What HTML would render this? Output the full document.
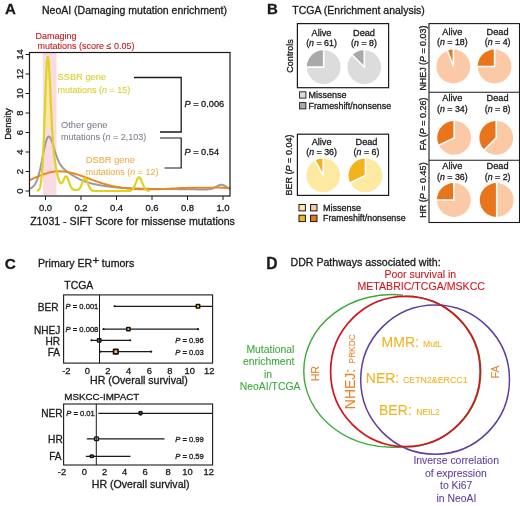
<!DOCTYPE html>
<html lang="en">
<head>
<meta charset="utf-8">
<title>Figure</title>
<style>
html,body{margin:0;padding:0;background:#ffffff;}
body{width:520px;height:506px;overflow:hidden;}
svg{display:block;font-family:'Liberation Sans', sans-serif;}
</style>
</head>
<body>
<svg width="520" height="506" viewBox="0 0 520 506">
<rect x="0" y="0" width="520" height="506" fill="#ffffff"/>
<text x="5" y="13.5" font-size="15" fill="#1a1a1a" stroke="#1a1a1a" stroke-width="0.3" text-anchor="start" font-weight="bold">A</text>
<text x="42" y="14" font-size="10.5" fill="#1a1a1a" stroke="#1a1a1a" stroke-width="0.3" text-anchor="start" font-weight="normal">NeoAI (Damaging mutation enrichment)</text>
<text x="35.5" y="39" font-size="9" fill="#c4161c" stroke="#c4161c" stroke-width="0.08" text-anchor="start" font-weight="normal">Damaging</text>
<text x="37.5" y="49" font-size="9" fill="#c4161c" stroke="#c4161c" stroke-width="0.08" text-anchor="start" font-weight="normal">mutations (score ≤ 0.05)</text>
<rect x="43" y="52.5" width="13.5" height="142.5" fill="#fadbe2" stroke="none" stroke-width="1"/>
<path d="M29.5,188.7 L30.2,188.4 L30.9,188.2 L31.5,187.8 L32.2,187.4 L32.9,186.8 L33.5,186.1 L34.2,185.3 L34.9,184.4 L35.6,183.2 L36.2,181.9 L36.9,180.3 L37.6,178.5 L38.2,176.4 L38.9,174.0 L39.6,171.4 L40.3,168.5 L40.9,165.4 L41.6,162.1 L42.3,158.8 L42.9,155.3 L43.6,152.0 L44.3,148.7 L45.0,145.6 L45.6,142.9 L46.3,140.5 L47.0,138.7 L47.6,137.4 L48.3,136.6 L49.0,136.5 L49.6,136.9 L50.3,137.7 L51.0,139.1 L51.7,140.7 L52.3,142.6 L53.0,144.7 L53.7,146.9 L54.3,149.1 L55.0,151.3 L55.7,153.5 L56.4,155.5 L57.0,157.4 L57.7,159.2 L58.4,160.8 L59.0,162.2 L59.7,163.5 L60.4,164.6 L61.1,165.6 L61.7,166.5 L62.4,167.3 L63.1,168.1 L63.7,168.7 L64.4,169.4 L65.1,169.9 L65.7,170.5 L66.4,171.0 L67.1,171.5 L67.8,172.0 L68.4,172.5 L69.1,172.9 L69.8,173.4 L70.4,173.9 L71.1,174.3 L71.8,174.7 L72.5,175.2 L73.1,175.6 L73.8,176.0 L74.5,176.4 L75.1,176.8 L75.8,177.2 L76.5,177.6 L77.2,177.9 L77.8,178.3 L78.5,178.6 L79.2,178.9 L79.8,179.3 L80.5,179.6 L81.2,179.9 L81.8,180.2 L82.5,180.5 L83.2,180.7 L83.9,181.0 L84.5,181.2 L85.2,181.5 L85.9,181.7 L86.5,182.0 L87.2,182.2 L87.9,182.4 L88.6,182.6 L89.2,182.8 L89.9,183.0 L90.6,183.2 L91.2,183.4 L91.9,183.5 L92.6,183.7 L93.3,183.9 L93.9,184.0 L94.6,184.2 L95.3,184.3 L95.9,184.5 L96.6,184.6 L97.3,184.7 L97.9,184.9 L98.6,185.0 L99.3,185.1 L100.0,185.2 L100.6,185.4 L101.3,185.5 L102.0,185.6 L102.6,185.7 L103.3,185.8 L104.0,185.9 L104.7,186.0 L105.3,186.1 L106.0,186.2 L106.7,186.3 L107.3,186.4 L108.0,186.5 L108.7,186.6 L109.4,186.6 L110.0,186.7 L110.7,186.8 L111.4,186.9 L112.0,186.9 L112.7,187.0 L113.4,187.1 L114.0,187.2 L114.7,187.2 L115.4,187.3 L116.1,187.4 L116.7,187.4 L117.4,187.5 L118.1,187.5 L118.7,187.6 L119.4,187.6 L120.1,187.7 L120.8,187.7 L121.4,187.8 L122.1,187.8 L122.8,187.9 L123.4,187.9 L124.1,188.0 L124.8,188.0 L125.5,188.1 L126.1,188.1 L126.8,188.1 L127.5,188.2 L128.1,188.2 L128.8,188.2 L129.5,188.3 L130.1,188.3 L130.8,188.3 L131.5,188.4 L132.2,188.4 L132.8,188.4 L133.5,188.4 L134.2,188.5 L134.8,188.5 L135.5,188.5 L136.2,188.5 L136.9,188.6 L137.5,188.6 L138.2,188.6 L138.9,188.6 L139.5,188.6 L140.2,188.7 L140.9,188.7 L141.6,188.7 L142.2,188.7 L142.9,188.7 L143.6,188.7 L144.2,188.8 L144.9,188.8 L145.6,188.8 L146.2,188.8 L146.9,188.8 L147.6,188.8 L148.3,188.8 L148.9,188.8 L149.6,188.9 L150.3,188.9 L150.9,188.9 L151.6,188.9 L152.3,188.9 L153.0,188.9 L153.6,188.9 L154.3,188.9 L155.0,188.9 L155.6,188.9 L156.3,188.9 L157.0,188.9 L157.7,189.0 L158.3,189.0 L159.0,189.0 L159.7,189.0 L160.3,189.0 L161.0,189.0 L161.7,189.0 L162.3,189.0 L163.0,189.0 L163.7,189.0 L164.4,189.0 L165.0,189.0 L165.7,189.0 L166.4,189.0 L167.0,189.1 L167.7,189.1 L168.4,189.1 L169.1,189.1 L169.7,189.1 L170.4,189.1 L171.1,189.1 L171.7,189.1 L172.4,189.1 L173.1,189.1 L173.8,189.1 L174.4,189.1 L175.1,189.1 L175.8,189.1 L176.4,189.1 L177.1,189.1 L177.8,189.2 L178.4,189.2 L179.1,189.2 L179.8,189.2 L180.5,189.2 L181.1,189.2 L181.8,189.2 L182.5,189.2 L183.1,189.2 L183.8,189.2 L184.5,189.2 L185.2,189.2 L185.8,189.2 L186.5,189.2 L187.2,189.3 L187.8,189.3 L188.5,189.3 L189.2,189.3 L189.9,189.3 L190.5,189.3 L191.2,189.3 L191.9,189.3 L192.5,189.3 L193.2,189.3 L193.9,189.3 L194.5,189.3 L195.2,189.3 L195.9,189.4 L196.6,189.4 L197.2,189.4 L197.9,189.4 L198.6,189.4 L199.2,189.4 L199.9,189.4 L200.6,189.4 L201.3,189.4 L201.9,189.4 L202.6,189.4 L203.3,189.4 L203.9,189.4 L204.6,189.4 L205.3,189.4 L206.0,189.4 L206.6,189.4 L207.3,189.4 L208.0,189.3 L208.6,189.3 L209.3,189.2 L210.0,189.1 L210.6,189.0 L211.3,188.9 L212.0,188.7 L212.7,188.4 L213.3,188.2 L214.0,187.9 L214.7,187.5 L215.3,187.1 L216.0,186.8 L216.7,186.4 L217.4,186.0 L218.0,185.6 L218.7,185.3 L219.4,185.1 L220.0,184.9 L220.7,184.8 L221.4,184.7 L222.1,184.8 L222.7,185.0 L223.4,185.2 L224.1,185.5 L224.7,185.8 L225.4,186.2 L226.1,186.6 L226.7,187.0 L227.4,187.4 L228.1,187.8 L228.8,188.1 L229.4,188.4 L230.1,188.7" fill="none" stroke="#9a9aae" stroke-width="2" stroke-linejoin="round"/>
<path d="M29.5,180.1 L30.2,179.8 L30.9,179.6 L31.5,179.3 L32.2,179.0 L32.9,178.7 L33.5,178.4 L34.2,178.1 L34.9,177.8 L35.6,177.5 L36.2,177.2 L36.9,176.9 L37.6,176.7 L38.2,176.4 L38.9,176.1 L39.6,175.8 L40.3,175.5 L40.9,175.3 L41.6,175.0 L42.3,174.8 L42.9,174.5 L43.6,174.3 L44.3,174.0 L45.0,173.8 L45.6,173.6 L46.3,173.4 L47.0,173.2 L47.6,173.0 L48.3,172.8 L49.0,172.6 L49.6,172.4 L50.3,172.3 L51.0,172.1 L51.7,172.0 L52.3,171.9 L53.0,171.8 L53.7,171.7 L54.3,171.6 L55.0,171.5 L55.7,171.4 L56.4,171.4 L57.0,171.3 L57.7,171.3 L58.4,171.3 L59.0,171.3 L59.7,171.3 L60.4,171.3 L61.1,171.4 L61.7,171.4 L62.4,171.4 L63.1,171.5 L63.7,171.6 L64.4,171.6 L65.1,171.7 L65.7,171.8 L66.4,171.9 L67.1,172.0 L67.8,172.1 L68.4,172.2 L69.1,172.4 L69.8,172.5 L70.4,172.6 L71.1,172.8 L71.8,172.9 L72.5,173.1 L73.1,173.3 L73.8,173.5 L74.5,173.6 L75.1,173.8 L75.8,174.0 L76.5,174.2 L77.2,174.4 L77.8,174.6 L78.5,174.9 L79.2,175.1 L79.8,175.3 L80.5,175.5 L81.2,175.8 L81.8,176.0 L82.5,176.2 L83.2,176.5 L83.9,176.7 L84.5,176.9 L85.2,177.2 L85.9,177.4 L86.5,177.7 L87.2,177.9 L87.9,178.2 L88.6,178.4 L89.2,178.7 L89.9,178.9 L90.6,179.2 L91.2,179.4 L91.9,179.7 L92.6,179.9 L93.3,180.2 L93.9,180.4 L94.6,180.7 L95.3,180.9 L95.9,181.1 L96.6,181.4 L97.3,181.6 L97.9,181.8 L98.6,182.1 L99.3,182.3 L100.0,182.5 L100.6,182.7 L101.3,183.0 L102.0,183.2 L102.6,183.4 L103.3,183.6 L104.0,183.8 L104.7,184.0 L105.3,184.2 L106.0,184.4 L106.7,184.6 L107.3,184.7 L108.0,184.9 L108.7,185.1 L109.4,185.3 L110.0,185.4 L110.7,185.6 L111.4,185.8 L112.0,185.9 L112.7,186.1 L113.4,186.2 L114.0,186.4 L114.7,186.5 L115.4,186.6 L116.1,186.8 L116.7,186.9 L117.4,187.0 L118.1,187.1 L118.7,187.2 L119.4,187.4 L120.1,187.5 L120.8,187.6 L121.4,187.7 L122.1,187.8 L122.8,187.9 L123.4,187.9 L124.1,188.0 L124.8,188.1 L125.5,188.2 L126.1,188.3 L126.8,188.3 L127.5,188.4 L128.1,188.5 L128.8,188.5 L129.5,188.6 L130.1,188.7 L130.8,188.7 L131.5,188.8 L132.2,188.8 L132.8,188.9 L133.5,188.9 L134.2,189.0 L134.8,189.0 L135.5,189.0 L136.2,189.1 L136.9,189.1 L137.5,189.1 L138.2,189.2 L138.9,189.2 L139.5,189.2 L140.2,189.2 L140.9,189.3 L141.6,189.3 L142.2,189.3 L142.9,189.3 L143.6,189.3 L144.2,189.3 L144.9,189.3 L145.6,189.3 L146.2,189.3 L146.9,189.4 L147.6,189.4 L148.3,189.4 L148.9,189.4 L149.6,189.4 L150.3,189.4 L150.9,189.3 L151.6,189.3 L152.3,189.3 L153.0,189.3 L153.6,189.3 L154.3,189.3 L155.0,189.3 L155.6,189.3 L156.3,189.3 L157.0,189.2 L157.7,189.2 L158.3,189.2 L159.0,189.2 L159.7,189.2 L160.3,189.1 L161.0,189.1 L161.7,189.1 L162.3,189.1 L163.0,189.0 L163.7,189.0 L164.4,189.0 L165.0,188.9 L165.7,188.9 L166.4,188.9 L167.0,188.8 L167.7,188.8 L168.4,188.8 L169.1,188.7 L169.7,188.7 L170.4,188.7 L171.1,188.6 L171.7,188.6 L172.4,188.6 L173.1,188.5 L173.8,188.5 L174.4,188.5 L175.1,188.4 L175.8,188.4 L176.4,188.3 L177.1,188.3 L177.8,188.3 L178.4,188.2 L179.1,188.2 L179.8,188.2 L180.5,188.1 L181.1,188.1 L181.8,188.1 L182.5,188.0 L183.1,188.0 L183.8,188.0 L184.5,187.9 L185.2,187.9 L185.8,187.9 L186.5,187.9 L187.2,187.8 L187.8,187.8 L188.5,187.8 L189.2,187.8 L189.9,187.8 L190.5,187.8 L191.2,187.7 L191.9,187.7 L192.5,187.7 L193.2,187.7 L193.9,187.7 L194.5,187.7 L195.2,187.7 L195.9,187.7 L196.6,187.7 L197.2,187.7 L197.9,187.7 L198.6,187.7 L199.2,187.7 L199.9,187.7 L200.6,187.7 L201.3,187.7 L201.9,187.7 L202.6,187.7 L203.3,187.7 L203.9,187.7 L204.6,187.7 L205.3,187.7 L206.0,187.7 L206.6,187.7 L207.3,187.7 L208.0,187.7 L208.6,187.7 L209.3,187.7 L210.0,187.7 L210.6,187.7 L211.3,187.7 L212.0,187.7 L212.7,187.7 L213.3,187.7 L214.0,187.6 L214.7,187.6 L215.3,187.6 L216.0,187.6 L216.7,187.6 L217.4,187.6 L218.0,187.6 L218.7,187.6 L219.4,187.6 L220.0,187.6 L220.7,187.7 L221.4,187.7 L222.1,187.7 L222.7,187.7 L223.4,187.8 L224.1,187.8 L224.7,187.9 L225.4,187.9 L226.1,188.0 L226.7,188.0 L227.4,188.1 L228.1,188.2 L228.8,188.2 L229.4,188.3 L230.1,188.4" fill="none" stroke="#e8891c" stroke-width="2" stroke-linejoin="round"/>
<path d="M44.2,127.5 L44.3,123.9 L44.5,120.3 L44.6,116.6 L44.7,112.8 L44.9,109.1 L45.0,105.4 L45.1,101.7 L45.3,98.0 L45.4,94.4 L45.5,90.8 L45.7,87.4 L45.8,84.1 L45.9,80.9 L46.1,77.8 L46.2,74.9 L46.4,72.1 L46.5,69.6 L46.6,67.3 L46.8,65.1 L46.9,63.2 L47.0,61.6 L47.2,60.1 L47.3,59.0 L47.4,58.0 L47.6,57.4 L47.7,57.0 L47.8,56.8 L48.0,57.0 L48.1,57.3 L48.2,57.9 L48.4,58.8 L48.5,59.9 L48.6,61.2 L48.8,62.8 L48.9,64.5 L49.0,66.4 L49.2,68.5 L49.3,70.7 L49.4,73.1 L49.6,75.7 L49.7,78.3 L49.8,81.0 L50.0,83.8 L50.1,86.7 L50.2,89.6 L50.4,92.6 L50.5,95.6 L50.6,98.6 L50.8,101.5 L50.9,104.5 L51.0,107.4 L51.2,110.3 L51.3,113.1 L51.5,115.9 L51.6,118.6 L51.7,121.3 L51.9,123.9 L52.0,126.3 Z" fill="#f8e7a2" opacity="0.8" stroke="none"/>
<path d="M37.2,190.8 L37.4,190.8 L37.6,190.7 L37.8,190.6 L38.0,190.5 L38.2,190.4 L38.5,190.2 L38.7,190.0 L38.9,189.8 L39.1,189.4 L39.3,189.1 L39.5,188.6 L39.8,188.0 L40.0,187.3 L40.2,186.5 L40.4,185.6 L40.6,184.5 L40.9,183.1 L41.1,181.6 L41.3,179.9 L41.5,177.9 L41.7,175.6 L41.9,173.0 L42.2,170.2 L42.4,167.0 L42.6,163.5 L42.8,159.6 L43.0,155.4 L43.2,150.9 L43.5,146.1 L43.7,141.0 L43.9,135.6 L44.1,130.0 L44.3,124.2 L44.5,118.2 L44.8,112.2 L45.0,106.2 L45.2,100.2 L45.4,94.3 L45.6,88.6 L45.8,83.2 L46.1,78.2 L46.3,73.5 L46.5,69.3 L46.7,65.7 L46.9,62.6 L47.2,60.2 L47.4,58.4 L47.6,57.3 L47.8,56.8 L48.0,57.1 L48.2,58.0 L48.5,59.5 L48.7,61.6 L48.9,64.3 L49.1,67.5 L49.3,71.1 L49.5,75.1 L49.8,79.3 L50.0,83.8 L50.2,88.5 L50.4,93.3 L50.6,98.1 L50.8,102.9 L51.1,107.7 L51.3,112.3 L51.5,116.8 L51.7,121.2 L51.9,125.3 L52.1,129.2 L52.4,132.9 L52.6,136.3 L52.8,139.6 L53.0,142.6 L53.2,145.4 L53.5,148.0 L53.7,150.4 L53.9,152.6 L54.1,154.6 L54.3,156.6 L54.5,158.3 L54.8,160.0 L55.0,161.6 L55.2,163.1 L55.4,164.5 L55.6,165.8 L55.8,167.1 L56.1,168.3 L56.3,169.4 L56.5,170.6 L56.7,171.6 L56.9,172.7 L57.1,173.6 L57.4,174.6 L57.6,175.5 L57.8,176.4 L58.0,177.2 L58.2,178.0 L58.4,178.7 L58.7,179.4 L58.9,180.0 L59.1,180.6 L59.3,181.1 L59.5,181.6 L59.8,182.0 L60.0,182.4 L60.2,182.7 L60.4,182.9 L60.6,183.1 L60.8,183.2 L61.1,183.3 L61.3,183.3 L61.5,183.2 L61.7,183.1 L61.9,182.9 L62.1,182.7 L62.4,182.4 L62.6,182.0 L62.8,181.7 L63.0,181.2 L63.2,180.8 L63.4,180.3 L63.7,179.9 L63.9,179.4 L64.1,178.9 L64.3,178.4 L64.5,178.0 L64.7,177.6 L65.0,177.3 L65.2,176.9 L65.4,176.7 L65.6,176.5 L65.8,176.4 L66.1,176.4 L66.3,176.4 L66.5,176.5 L66.7,176.7 L66.9,176.9 L67.1,177.2 L67.4,177.6 L67.6,178.1 L67.8,178.6 L68.0,179.1 L68.2,179.7 L68.4,180.3 L68.7,180.9 L68.9,181.6 L69.1,182.2 L69.3,182.8 L69.5,183.5 L69.7,184.1 L70.0,184.7 L70.2,185.2 L70.4,185.7 L70.6,186.2 L70.8,186.7 L71.0,187.1 L71.3,187.5 L71.5,187.8 L71.7,188.1 L71.9,188.4 L72.1,188.6 L72.4,188.9 L72.6,189.0 L72.8,189.2 L73.0,189.3 L73.2,189.4 L73.4,189.5 L73.7,189.6 L73.9,189.7 L74.1,189.7 L74.3,189.8 L74.5,189.8 L74.7,189.9 L75.0,189.9 L75.2,189.9 L75.4,189.9 L75.6,189.9 L75.8,190.0 L76.0,190.0 L76.3,190.0 L76.5,190.0 L76.7,190.0 L76.9,190.0 L77.1,189.9 L77.3,189.9 L77.6,189.9 L77.8,189.8 L78.0,189.7 L78.2,189.7 L78.4,189.5 L78.7,189.4 L78.9,189.3 L79.1,189.1 L79.3,188.9 L79.5,188.6 L79.7,188.3 L80.0,188.0 L80.2,187.7 L80.4,187.3 L80.6,186.9 L80.8,186.5 L81.0,186.0 L81.3,185.5 L81.5,184.9 L81.7,184.4 L81.9,183.8 L82.1,183.3 L82.3,182.7 L82.6,182.1 L82.8,181.6 L83.0,181.0 L83.2,180.5 L83.4,180.1 L83.6,179.6 L83.9,179.2 L84.1,178.9 L84.3,178.7 L84.5,178.5 L84.7,178.4 L85.0,178.3 L85.2,178.3 L85.4,178.4 L85.6,178.6 L85.8,178.8 L86.0,179.1 L86.3,179.5 L86.5,179.9 L86.7,180.4 L86.9,180.9 L87.1,181.4 L87.3,182.0 L87.6,182.6 L87.8,183.2 L88.0,183.7 L88.2,184.3 L88.4,184.9 L88.6,185.5 L88.9,186.0 L89.1,186.5 L89.3,187.0 L89.5,187.4 L89.7,187.8 L89.9,188.2 L90.2,188.6 L90.4,188.9 L90.6,189.2 L90.8,189.5 L91.0,189.7 L91.3,189.9 L91.5,190.1 L91.7,190.2 L91.9,190.3 L92.1,190.5 L92.3,190.6 L92.6,190.6 L92.8,190.7 L93.0,190.8 L93.2,190.8 L93.4,190.8 L95.2,191.0 L100.0,191.0 L104.8,191.0 L109.7,191.0 L114.5,191.0 L119.3,191.0 L124.1,191.0 L128.9,190.9 L129.8,190.8 L130.1,190.7 L130.5,190.6 L130.8,190.5 L131.1,190.4 L131.5,190.2 L131.8,190.0 L132.1,189.7 L132.5,189.4 L132.8,189.0 L133.1,188.5 L133.5,188.0 L133.8,187.5 L134.1,186.8 L134.4,186.2 L134.8,185.4 L135.1,184.6 L135.4,183.8 L135.8,182.9 L136.1,182.1 L136.4,181.2 L136.8,180.4 L137.1,179.7 L137.4,179.0 L137.8,178.4 L138.1,177.9 L138.4,177.6 L138.7,177.4 L139.1,177.4 L139.4,177.4 L139.7,177.7 L140.1,178.0 L140.4,178.5 L140.7,179.1 L141.1,179.8 L141.4,180.6 L141.7,181.4 L142.1,182.3 L142.4,183.1 L142.7,184.0 L143.0,184.8 L143.4,185.6 L143.7,186.3 L144.0,187.0 L144.4,187.6 L144.7,188.2 L145.0,188.6 L145.4,189.1 L145.7,189.4 L146.0,189.7 L146.4,190.0 L146.7,190.2 L147.0,190.4 L147.4,190.5 L147.7,190.6 L148.0,190.7 L148.3,190.8 L148.7,190.9 L149.0,190.9 L149.3,190.9" fill="none" stroke="#e0d21e" stroke-width="2.2" stroke-linejoin="round"/>
<rect x="29.5" y="52.5" width="200.5" height="143.5" fill="none" stroke="#1a1a1a" stroke-width="1.2"/>
<line x1="45.5" y1="196" x2="45.5" y2="200" stroke="#1a1a1a" stroke-width="1"/>
<text x="45.5" y="210.5" font-size="9.5" fill="#1a1a1a" stroke="#1a1a1a" stroke-width="0.3" text-anchor="middle" font-weight="normal">0.0</text>
<line x1="81.0" y1="196" x2="81.0" y2="200" stroke="#1a1a1a" stroke-width="1"/>
<text x="81.0" y="210.5" font-size="9.5" fill="#1a1a1a" stroke="#1a1a1a" stroke-width="0.3" text-anchor="middle" font-weight="normal">0.2</text>
<line x1="116.5" y1="196" x2="116.5" y2="200" stroke="#1a1a1a" stroke-width="1"/>
<text x="116.5" y="210.5" font-size="9.5" fill="#1a1a1a" stroke="#1a1a1a" stroke-width="0.3" text-anchor="middle" font-weight="normal">0.4</text>
<line x1="152.0" y1="196" x2="152.0" y2="200" stroke="#1a1a1a" stroke-width="1"/>
<text x="152.0" y="210.5" font-size="9.5" fill="#1a1a1a" stroke="#1a1a1a" stroke-width="0.3" text-anchor="middle" font-weight="normal">0.6</text>
<line x1="187.5" y1="196" x2="187.5" y2="200" stroke="#1a1a1a" stroke-width="1"/>
<text x="187.5" y="210.5" font-size="9.5" fill="#1a1a1a" stroke="#1a1a1a" stroke-width="0.3" text-anchor="middle" font-weight="normal">0.8</text>
<line x1="223.0" y1="196" x2="223.0" y2="200" stroke="#1a1a1a" stroke-width="1"/>
<text x="223.0" y="210.5" font-size="9.5" fill="#1a1a1a" stroke="#1a1a1a" stroke-width="0.3" text-anchor="middle" font-weight="normal">1.0</text>
<line x1="25.5" y1="191.0" x2="29.5" y2="191.0" stroke="#1a1a1a" stroke-width="1"/>
<text x="23" y="191.0" font-size="9.5" fill="#1a1a1a" stroke="#1a1a1a" stroke-width="0.3" text-anchor="middle" font-weight="normal" transform="rotate(-90 23 191.0)">0</text>
<line x1="25.5" y1="171.5" x2="29.5" y2="171.5" stroke="#1a1a1a" stroke-width="1"/>
<text x="23" y="171.5" font-size="9.5" fill="#1a1a1a" stroke="#1a1a1a" stroke-width="0.3" text-anchor="middle" font-weight="normal" transform="rotate(-90 23 171.5)">2</text>
<line x1="25.5" y1="152.0" x2="29.5" y2="152.0" stroke="#1a1a1a" stroke-width="1"/>
<text x="23" y="152.0" font-size="9.5" fill="#1a1a1a" stroke="#1a1a1a" stroke-width="0.3" text-anchor="middle" font-weight="normal" transform="rotate(-90 23 152.0)">4</text>
<line x1="25.5" y1="132.5" x2="29.5" y2="132.5" stroke="#1a1a1a" stroke-width="1"/>
<text x="23" y="132.5" font-size="9.5" fill="#1a1a1a" stroke="#1a1a1a" stroke-width="0.3" text-anchor="middle" font-weight="normal" transform="rotate(-90 23 132.5)">6</text>
<line x1="25.5" y1="113.0" x2="29.5" y2="113.0" stroke="#1a1a1a" stroke-width="1"/>
<text x="23" y="113.0" font-size="9.5" fill="#1a1a1a" stroke="#1a1a1a" stroke-width="0.3" text-anchor="middle" font-weight="normal" transform="rotate(-90 23 113.0)">8</text>
<line x1="25.5" y1="93.5" x2="29.5" y2="93.5" stroke="#1a1a1a" stroke-width="1"/>
<text x="23" y="93.5" font-size="9.5" fill="#1a1a1a" stroke="#1a1a1a" stroke-width="0.3" text-anchor="middle" font-weight="normal" transform="rotate(-90 23 93.5)">10</text>
<line x1="25.5" y1="74.0" x2="29.5" y2="74.0" stroke="#1a1a1a" stroke-width="1"/>
<text x="23" y="74.0" font-size="9.5" fill="#1a1a1a" stroke="#1a1a1a" stroke-width="0.3" text-anchor="middle" font-weight="normal" transform="rotate(-90 23 74.0)">12</text>
<line x1="25.5" y1="54.5" x2="29.5" y2="54.5" stroke="#1a1a1a" stroke-width="1"/>
<text x="23" y="54.5" font-size="9.5" fill="#1a1a1a" stroke="#1a1a1a" stroke-width="0.3" text-anchor="middle" font-weight="normal" transform="rotate(-90 23 54.5)">14</text>
<text x="11" y="124" font-size="9.5" fill="#1a1a1a" stroke="#1a1a1a" stroke-width="0.3" text-anchor="middle" font-weight="normal" transform="rotate(-90 11 124)">Density</text>
<text x="132.5" y="225" font-size="10.6" fill="#1a1a1a" stroke="#1a1a1a" stroke-width="0.3" text-anchor="middle" font-weight="normal">Z1031 - SIFT Score for missense mutations</text>
<text x="57.5" y="80" font-size="9.3" fill="#d9d02e" stroke="#d9d02e" stroke-width="0.08" text-anchor="start" font-weight="normal">SSBR gene</text>
<text x="57.5" y="92.5" font-size="9" fill="#d9d02e" stroke="#d9d02e" stroke-width="0.08" text-anchor="start" font-weight="normal">mutations (<tspan font-style="italic">n</tspan> = 15)</text>
<text x="61" y="127.5" font-size="9.3" fill="#82828f" stroke="#82828f" stroke-width="0.08" text-anchor="start" font-weight="normal">Other gene</text>
<text x="61" y="139.5" font-size="9" fill="#82828f" stroke="#82828f" stroke-width="0.08" text-anchor="start" font-weight="normal">mutations (<tspan font-style="italic">n</tspan> = 2,103)</text>
<text x="85.75" y="162.5" font-size="9.3" fill="#eeae4e" stroke="#eeae4e" stroke-width="0.08" text-anchor="start" font-weight="normal">DSBR gene</text>
<text x="85.75" y="175" font-size="9" fill="#eeae4e" stroke="#eeae4e" stroke-width="0.08" text-anchor="start" font-weight="normal">mutations (<tspan font-style="italic">n</tspan> = 12)</text>
<path d="M134,77.5 H181.2 V132 H160" fill="none" stroke="#1a1a1a" stroke-width="1.3"/>
<path d="M160,138 H181.2 V168 H164.5" fill="none" stroke="#1a1a1a" stroke-width="1.2"/>
<text x="184.5" y="106.8" font-size="9.2" fill="#1a1a1a" stroke="#1a1a1a" stroke-width="0.3" text-anchor="start" font-weight="normal"><tspan font-style="italic">P</tspan> = 0.006</text>
<text x="184.5" y="155.3" font-size="9.2" fill="#1a1a1a" stroke="#1a1a1a" stroke-width="0.3" text-anchor="start" font-weight="normal"><tspan font-style="italic">P</tspan> = 0.54</text>
<text x="267" y="13.6" font-size="15" fill="#1a1a1a" stroke="#1a1a1a" stroke-width="0.3" text-anchor="start" font-weight="bold">B</text>
<text x="292.3" y="13.8" font-size="10.5" fill="#1a1a1a" stroke="#1a1a1a" stroke-width="0.3" text-anchor="start" font-weight="normal">TCGA (Enrichment analysis)</text>
<rect x="297.4" y="23.6" width="91.2" height="64.1" fill="none" stroke="#1a1a1a" stroke-width="1.2"/>
<text x="292.5" y="56" font-size="9" fill="#1a1a1a" stroke="#1a1a1a" stroke-width="0.3" text-anchor="middle" font-weight="normal" transform="rotate(-90 292.5 56)">Controls</text>
<text x="321.5" y="35.8" font-size="9.2" fill="#1a1a1a" stroke="#1a1a1a" stroke-width="0.3" text-anchor="middle" font-weight="normal">Alive</text>
<text x="321.5" y="46" font-size="8.85" fill="#1a1a1a" stroke="#1a1a1a" stroke-width="0.3" text-anchor="middle" font-weight="normal">(<tspan font-style="italic">n</tspan> = 61)</text>
<text x="364" y="35.8" font-size="9.2" fill="#1a1a1a" stroke="#1a1a1a" stroke-width="0.3" text-anchor="middle" font-weight="normal">Dead</text>
<text x="364" y="46" font-size="8.85" fill="#1a1a1a" stroke="#1a1a1a" stroke-width="0.3" text-anchor="middle" font-weight="normal">(<tspan font-style="italic">n</tspan> = 8)</text>
<circle cx="323.7" cy="67.1" r="16.9" fill="#dcdcdc"/>
<path d="M323.7,67.1 L306.80,67.10 A16.9,16.9 0 0 1 323.7,50.20 Z" fill="#a9a9a9"/>
<path d="M306.20,67.10 L323.7,67.1 L323.7,49.60" fill="none" stroke="#ffffff" stroke-width="1.6" stroke-linejoin="miter"/>
<circle cx="364.3" cy="67.1" r="16.9" fill="#dcdcdc"/>
<path d="M364.3,67.1 L352.35,55.15 A16.9,16.9 0 0 1 364.3,50.20 Z" fill="#a9a9a9"/>
<path d="M351.93,54.73 L364.3,67.1 L364.3,49.60" fill="none" stroke="#ffffff" stroke-width="1.6" stroke-linejoin="miter"/>
<rect x="299.6" y="91.8" width="6.3" height="6.3" fill="#dcdcdc" stroke="#1a1a1a" stroke-width="0.9"/>
<rect x="299.6" y="102.6" width="6.3" height="6.3" fill="#a9a9a9" stroke="#1a1a1a" stroke-width="0.9"/>
<text x="308.5" y="98.3" font-size="9" fill="#1a1a1a" stroke="#1a1a1a" stroke-width="0.3" text-anchor="start" font-weight="normal">Missense</text>
<text x="308.5" y="109.3" font-size="8.85" fill="#1a1a1a" stroke="#1a1a1a" stroke-width="0.3" text-anchor="start" font-weight="normal">Frameshift/nonsense</text>
<rect x="297.4" y="134.2" width="91.2" height="61.2" fill="none" stroke="#1a1a1a" stroke-width="1.2"/>
<text x="292.3" y="165" font-size="9" fill="#1a1a1a" stroke="#1a1a1a" stroke-width="0.3" text-anchor="middle" font-weight="normal" transform="rotate(-90 292.3 165)">BER (<tspan font-style="italic">P</tspan> = 0.04)</text>
<text x="321.6" y="144.6" font-size="9.2" fill="#1a1a1a" stroke="#1a1a1a" stroke-width="0.3" text-anchor="middle" font-weight="normal">Alive</text>
<text x="321.6" y="154.6" font-size="8.85" fill="#1a1a1a" stroke="#1a1a1a" stroke-width="0.3" text-anchor="middle" font-weight="normal">(<tspan font-style="italic">n</tspan> = 36)</text>
<text x="366.5" y="144.6" font-size="9.2" fill="#1a1a1a" stroke="#1a1a1a" stroke-width="0.3" text-anchor="middle" font-weight="normal">Dead</text>
<text x="366.5" y="154.6" font-size="8.85" fill="#1a1a1a" stroke="#1a1a1a" stroke-width="0.3" text-anchor="middle" font-weight="normal">(<tspan font-style="italic">n</tspan> = 6)</text>
<circle cx="323.2" cy="175.4" r="16.9" fill="#fde9a0"/>
<path d="M323.2,175.4 L315.06,160.59 A16.9,16.9 0 0 1 323.2,158.50 Z" fill="#f3b31c"/>
<path d="M314.77,160.06 L323.2,175.4 L323.2,157.90" fill="none" stroke="#ffffff" stroke-width="1.6" stroke-linejoin="miter"/>
<circle cx="365.5" cy="175.4" r="16.9" fill="#fde9a0"/>
<path d="M365.5,175.4 L350.30,182.79 A16.9,16.9 0 0 1 365.5,158.50 Z" fill="#f3b31c"/>
<path d="M349.76,183.05 L365.5,175.4 L365.5,157.90" fill="none" stroke="#ffffff" stroke-width="1.6" stroke-linejoin="miter"/>
<rect x="299" y="204.5" width="6.4" height="6.4" fill="#fde9a0" stroke="#1a1a1a" stroke-width="1"/>
<rect x="310.6" y="204.5" width="6.4" height="6.4" fill="#fcc9a6" stroke="#1a1a1a" stroke-width="1"/>
<rect x="299" y="215.2" width="6.4" height="6.4" fill="#f3b31c" stroke="#1a1a1a" stroke-width="1"/>
<rect x="310.6" y="215.2" width="6.4" height="6.4" fill="#e8741c" stroke="#1a1a1a" stroke-width="1"/>
<text x="323" y="210.6" font-size="9" fill="#1a1a1a" stroke="#1a1a1a" stroke-width="0.3" text-anchor="start" font-weight="normal">Missense</text>
<text x="323" y="221.1" font-size="8.85" fill="#1a1a1a" stroke="#1a1a1a" stroke-width="0.3" text-anchor="start" font-weight="normal">Frameshift/nonsense</text>
<rect x="429" y="23.6" width="90.5" height="198.9" fill="none" stroke="#1a1a1a" stroke-width="1.1"/>
<line x1="429" y1="92.3" x2="519.5" y2="92.3" stroke="#1a1a1a" stroke-width="1.1"/>
<line x1="429" y1="160.2" x2="519.5" y2="160.2" stroke="#1a1a1a" stroke-width="1.1"/>
<text x="425.8" y="58.1" font-size="8.9" fill="#1a1a1a" stroke="#1a1a1a" stroke-width="0.3" text-anchor="middle" font-weight="normal" transform="rotate(-90 425.8 58.1)">NHEJ (<tspan font-style="italic">P</tspan> = 0.03)</text>
<text x="425.8" y="123.8" font-size="9" fill="#1a1a1a" stroke="#1a1a1a" stroke-width="0.3" text-anchor="middle" font-weight="normal" transform="rotate(-90 425.8 123.8)">FA (<tspan font-style="italic">P</tspan> = 0.26)</text>
<text x="425.8" y="190" font-size="9" fill="#1a1a1a" stroke="#1a1a1a" stroke-width="0.3" text-anchor="middle" font-weight="normal" transform="rotate(-90 425.8 190)">HR (<tspan font-style="italic">P</tspan> = 0.45)</text>
<text x="452.3" y="34.6" font-size="9.2" fill="#1a1a1a" stroke="#1a1a1a" stroke-width="0.3" text-anchor="middle" font-weight="normal">Alive</text>
<text x="452.3" y="44.8" font-size="8.85" fill="#1a1a1a" stroke="#1a1a1a" stroke-width="0.3" text-anchor="middle" font-weight="normal">(<tspan font-style="italic">n</tspan> = 18)</text>
<text x="497.6" y="34.6" font-size="9.2" fill="#1a1a1a" stroke="#1a1a1a" stroke-width="0.3" text-anchor="middle" font-weight="normal">Dead</text>
<text x="497.6" y="44.8" font-size="8.85" fill="#1a1a1a" stroke="#1a1a1a" stroke-width="0.3" text-anchor="middle" font-weight="normal">(<tspan font-style="italic">n</tspan> = 4)</text>
<circle cx="453.3" cy="66.5" r="16.9" fill="#fcc9a6"/>
<path d="M453.3,66.5 L447.58,50.60 A16.9,16.9 0 0 1 453.3,49.60 Z" fill="#e8741c"/>
<path d="M447.37,50.03 L453.3,66.5 L453.3,49.00" fill="none" stroke="#ffffff" stroke-width="1.6" stroke-linejoin="miter"/>
<circle cx="494.6" cy="66.5" r="16.9" fill="#fcc9a6"/>
<path d="M494.6,66.5 L477.70,66.50 A16.9,16.9 0 0 1 494.6,49.60 Z" fill="#e8741c"/>
<path d="M477.10,66.50 L494.6,66.5 L494.6,49.00" fill="none" stroke="#ffffff" stroke-width="1.6" stroke-linejoin="miter"/>
<text x="452.3" y="101.4" font-size="9.2" fill="#1a1a1a" stroke="#1a1a1a" stroke-width="0.3" text-anchor="middle" font-weight="normal">Alive</text>
<text x="452.3" y="111.7" font-size="8.85" fill="#1a1a1a" stroke="#1a1a1a" stroke-width="0.3" text-anchor="middle" font-weight="normal">(<tspan font-style="italic">n</tspan> = 34)</text>
<text x="497.6" y="101.4" font-size="9.2" fill="#1a1a1a" stroke="#1a1a1a" stroke-width="0.3" text-anchor="middle" font-weight="normal">Dead</text>
<text x="497.6" y="111.7" font-size="8.85" fill="#1a1a1a" stroke="#1a1a1a" stroke-width="0.3" text-anchor="middle" font-weight="normal">(<tspan font-style="italic">n</tspan> = 8)</text>
<circle cx="454.2" cy="137.9" r="16.9" fill="#fcc9a6"/>
<path d="M454.2,137.9 L438.91,145.10 A16.9,16.9 0 0 1 454.2,121.00 Z" fill="#e8741c"/>
<path d="M438.37,145.35 L454.2,137.9 L454.2,120.40" fill="none" stroke="#ffffff" stroke-width="1.6" stroke-linejoin="miter"/>
<circle cx="496.3" cy="137.9" r="16.9" fill="#fcc9a6"/>
<path d="M496.3,137.9 L484.35,149.85 A16.9,16.9 0 0 1 496.3,121.00 Z" fill="#e8741c"/>
<path d="M483.93,150.27 L496.3,137.9 L496.3,120.40" fill="none" stroke="#ffffff" stroke-width="1.6" stroke-linejoin="miter"/>
<text x="452.3" y="168.9" font-size="9.2" fill="#1a1a1a" stroke="#1a1a1a" stroke-width="0.3" text-anchor="middle" font-weight="normal">Alive</text>
<text x="452.3" y="179.6" font-size="8.85" fill="#1a1a1a" stroke="#1a1a1a" stroke-width="0.3" text-anchor="middle" font-weight="normal">(<tspan font-style="italic">n</tspan> = 36)</text>
<text x="497.6" y="168.9" font-size="9.2" fill="#1a1a1a" stroke="#1a1a1a" stroke-width="0.3" text-anchor="middle" font-weight="normal">Dead</text>
<text x="497.6" y="179.6" font-size="8.85" fill="#1a1a1a" stroke="#1a1a1a" stroke-width="0.3" text-anchor="middle" font-weight="normal">(<tspan font-style="italic">n</tspan> = 2)</text>
<circle cx="453.9" cy="200" r="16.9" fill="#fcc9a6"/>
<path d="M453.9,200 L437.00,200.00 A16.9,16.9 0 0 1 453.9,183.10 Z" fill="#e8741c"/>
<path d="M436.40,200.00 L453.9,200 L453.9,182.50" fill="none" stroke="#ffffff" stroke-width="1.6" stroke-linejoin="miter"/>
<circle cx="496.7" cy="200" r="16.9" fill="#fcc9a6"/>
<path d="M496.7,200 L496.70,216.90 A16.9,16.9 0 0 1 496.7,183.10 Z" fill="#e8741c"/>
<path d="M496.70,217.50 L496.7,200 L496.7,182.50" fill="none" stroke="#ffffff" stroke-width="1.6" stroke-linejoin="miter"/>
<text x="4.7" y="268.5" font-size="15.3" fill="#1a1a1a" stroke="#1a1a1a" stroke-width="0.3" text-anchor="start" font-weight="bold">C</text>
<text x="38" y="267.2" font-size="10.6" fill="#1a1a1a" stroke="#1a1a1a" stroke-width="0.3" text-anchor="start" font-weight="normal">Primary ER<tspan dy="-2.8" dx="0.3" font-size="11.5">+</tspan></text>
<text x="101.8" y="267.2" font-size="10.6" fill="#1a1a1a" stroke="#1a1a1a" stroke-width="0.3" text-anchor="start" font-weight="normal">tumors</text>
<text x="64.3" y="289.2" font-size="10.4" fill="#1a1a1a" stroke="#1a1a1a" stroke-width="0.3" text-anchor="start" font-weight="normal">TCGA</text>
<line x1="114.6" y1="306.25" x2="212.5" y2="306.25" stroke="#1a1a1a" stroke-width="1.25"/>
<circle cx="114.6" cy="306.25" r="1.1" fill="#1a1a1a"/>
<rect x="196.3" y="304.55" width="3.4" height="3.4" rx="0.3" fill="#f5d62a" stroke="#1a1008" stroke-width="1.5"/>
<text x="58.5" y="310.55" font-size="10.1" fill="#1a1a1a" stroke="#1a1a1a" stroke-width="0.3" text-anchor="end" font-weight="normal">BER</text>
<text x="65.6" y="309.05" font-size="7.6" fill="#1a1a1a" stroke="#1a1a1a" stroke-width="0.3" text-anchor="start" font-weight="normal"><tspan font-style="italic">P</tspan> = 0.001</text>
<line x1="103.5" y1="329.2" x2="198" y2="329.2" stroke="#1a1a1a" stroke-width="1.25"/>
<circle cx="103.5" cy="329.2" r="1.1" fill="#1a1a1a"/>
<circle cx="198" cy="329.2" r="1.1" fill="#1a1a1a"/>
<rect x="126.75" y="327.55" width="3.3" height="3.3" rx="0.3" fill="#f0b892" stroke="#1a1008" stroke-width="1.5"/>
<text x="60.3" y="333.5" font-size="10.1" fill="#1a1a1a" stroke="#1a1a1a" stroke-width="0.3" text-anchor="end" font-weight="normal">NHEJ</text>
<text x="65.6" y="332.0" font-size="7.6" fill="#1a1a1a" stroke="#1a1a1a" stroke-width="0.3" text-anchor="start" font-weight="normal"><tspan font-style="italic">P</tspan> = 0.008</text>
<line x1="91.5" y1="340.3" x2="130.2" y2="340.3" stroke="#1a1a1a" stroke-width="1.25"/>
<circle cx="91.5" cy="340.3" r="1.1" fill="#1a1a1a"/>
<circle cx="130.2" cy="340.3" r="1.1" fill="#1a1a1a"/>
<rect x="97.55" y="338.65000000000003" width="3.3" height="3.3" rx="0.3" fill="#f0b892" stroke="#1a1008" stroke-width="1.5"/>
<text x="60" y="344.6" font-size="10.1" fill="#1a1a1a" stroke="#1a1a1a" stroke-width="0.3" text-anchor="end" font-weight="normal">HR</text>
<text x="175.2" y="343.1" font-size="7.6" fill="#1a1a1a" stroke="#1a1a1a" stroke-width="0.3" text-anchor="start" font-weight="normal"><tspan font-style="italic">P</tspan> = 0.96</text>
<line x1="100.2" y1="351.7" x2="151.2" y2="351.7" stroke="#1a1a1a" stroke-width="1.25"/>
<circle cx="100.2" cy="351.7" r="1.1" fill="#1a1a1a"/>
<circle cx="151.2" cy="351.7" r="1.1" fill="#1a1a1a"/>
<rect x="113.55" y="349.45" width="4.5" height="4.5" rx="0.3" fill="#f0b892" stroke="#1a1008" stroke-width="1.7"/>
<text x="60" y="356.0" font-size="10.1" fill="#1a1a1a" stroke="#1a1a1a" stroke-width="0.3" text-anchor="end" font-weight="normal">FA</text>
<text x="175.2" y="354.5" font-size="7.6" fill="#1a1a1a" stroke="#1a1a1a" stroke-width="0.3" text-anchor="start" font-weight="normal"><tspan font-style="italic">P</tspan> = 0.03</text>
<line x1="99.5" y1="294.9" x2="99.5" y2="363.1" stroke="#1a1a1a" stroke-width="1"/>
<rect x="63.6" y="294.9" width="149.0" height="68.20000000000005" fill="none" stroke="#1a1a1a" stroke-width="1.1"/>
<text x="66.3" y="373.7" font-size="9.4" fill="#1a1a1a" stroke="#1a1a1a" stroke-width="0.3" text-anchor="middle" font-weight="normal">-2</text>
<text x="87.4" y="373.7" font-size="9.4" fill="#1a1a1a" stroke="#1a1a1a" stroke-width="0.3" text-anchor="middle" font-weight="normal">0</text>
<text x="107.8" y="373.7" font-size="9.4" fill="#1a1a1a" stroke="#1a1a1a" stroke-width="0.3" text-anchor="middle" font-weight="normal">2</text>
<text x="128.5" y="373.7" font-size="9.4" fill="#1a1a1a" stroke="#1a1a1a" stroke-width="0.3" text-anchor="middle" font-weight="normal">4</text>
<text x="149.3" y="373.7" font-size="9.4" fill="#1a1a1a" stroke="#1a1a1a" stroke-width="0.3" text-anchor="middle" font-weight="normal">6</text>
<text x="169.8" y="373.7" font-size="9.4" fill="#1a1a1a" stroke="#1a1a1a" stroke-width="0.3" text-anchor="middle" font-weight="normal">8</text>
<text x="189.8" y="373.7" font-size="9.4" fill="#1a1a1a" stroke="#1a1a1a" stroke-width="0.3" text-anchor="middle" font-weight="normal">10</text>
<text x="209.3" y="373.7" font-size="9.4" fill="#1a1a1a" stroke="#1a1a1a" stroke-width="0.3" text-anchor="middle" font-weight="normal">12</text>
<text x="138.9" y="384.3" font-size="10.6" fill="#1a1a1a" stroke="#1a1a1a" stroke-width="0.3" text-anchor="middle" font-weight="normal">HR (Overall survival)</text>
<text x="64.3" y="400.2" font-size="9.8" fill="#1a1a1a" stroke="#1a1a1a" stroke-width="0.3" text-anchor="start" font-weight="normal">MSKCC-IMPACT</text>
<line x1="98.3" y1="413.25" x2="212.5" y2="413.25" stroke="#1a1a1a" stroke-width="1.25"/>
<rect x="138.9" y="411.65" width="3.2" height="3.2" rx="1.6" fill="#666" stroke="#1a1008" stroke-width="1.6"/>
<text x="62.6" y="417.35" font-size="10.1" fill="#1a1a1a" stroke="#1a1a1a" stroke-width="0.3" text-anchor="end" font-weight="normal">NER</text>
<text x="66.3" y="416.05" font-size="7.6" fill="#1a1a1a" stroke="#1a1a1a" stroke-width="0.3" text-anchor="start" font-weight="normal"><tspan font-style="italic">P</tspan> = 0.01</text>
<line x1="86.8" y1="438.75" x2="164.5" y2="438.75" stroke="#1a1a1a" stroke-width="1.25"/>
<rect x="94.6" y="436.85" width="3.8" height="3.8" rx="0.8" fill="#f0b892" stroke="#1a1008" stroke-width="1.4"/>
<text x="62.7" y="442.55" font-size="10.1" fill="#1a1a1a" stroke="#1a1a1a" stroke-width="0.3" text-anchor="end" font-weight="normal">HR</text>
<text x="175.2" y="441.55" font-size="7.6" fill="#1a1a1a" stroke="#1a1a1a" stroke-width="0.3" text-anchor="start" font-weight="normal"><tspan font-style="italic">P</tspan> = 0.99</text>
<line x1="85.8" y1="456.25" x2="130.5" y2="456.25" stroke="#1a1a1a" stroke-width="1.25"/>
<rect x="90.1" y="455.05" width="3.4" height="2.4" rx="1" fill="#777" stroke="#1a1008" stroke-width="1.5"/>
<text x="61.5" y="459.55" font-size="10.1" fill="#1a1a1a" stroke="#1a1a1a" stroke-width="0.3" text-anchor="end" font-weight="normal">FA</text>
<text x="175.2" y="459.05" font-size="7.6" fill="#1a1a1a" stroke="#1a1a1a" stroke-width="0.3" text-anchor="start" font-weight="normal"><tspan font-style="italic">P</tspan> = 0.59</text>
<line x1="96.3" y1="404.0" x2="96.3" y2="465" stroke="#1a1a1a" stroke-width="1"/>
<rect x="63.6" y="404.0" width="149.0" height="61.0" fill="none" stroke="#1a1a1a" stroke-width="1.1"/>
<text x="62" y="474.8" font-size="9.4" fill="#1a1a1a" stroke="#1a1a1a" stroke-width="0.3" text-anchor="middle" font-weight="normal">-2</text>
<text x="84.3" y="474.8" font-size="9.4" fill="#1a1a1a" stroke="#1a1a1a" stroke-width="0.3" text-anchor="middle" font-weight="normal">0</text>
<text x="104.5" y="474.8" font-size="9.4" fill="#1a1a1a" stroke="#1a1a1a" stroke-width="0.3" text-anchor="middle" font-weight="normal">2</text>
<text x="124.7" y="474.8" font-size="9.4" fill="#1a1a1a" stroke="#1a1a1a" stroke-width="0.3" text-anchor="middle" font-weight="normal">4</text>
<text x="145" y="474.8" font-size="9.4" fill="#1a1a1a" stroke="#1a1a1a" stroke-width="0.3" text-anchor="middle" font-weight="normal">6</text>
<text x="168" y="474.8" font-size="9.4" fill="#1a1a1a" stroke="#1a1a1a" stroke-width="0.3" text-anchor="middle" font-weight="normal">8</text>
<text x="187.5" y="474.8" font-size="9.4" fill="#1a1a1a" stroke="#1a1a1a" stroke-width="0.3" text-anchor="middle" font-weight="normal">10</text>
<text x="208.8" y="474.8" font-size="9.4" fill="#1a1a1a" stroke="#1a1a1a" stroke-width="0.3" text-anchor="middle" font-weight="normal">12</text>
<text x="140.6" y="487.5" font-size="10.6" fill="#1a1a1a" stroke="#1a1a1a" stroke-width="0.3" text-anchor="middle" font-weight="normal">HR (Overall survival)</text>
<text x="266.3" y="268.8" font-size="15.6" fill="#1a1a1a" stroke="#1a1a1a" stroke-width="0.3" text-anchor="start" font-weight="bold">D</text>
<text x="290.5" y="265.8" font-size="10.6" fill="#1a1a1a" stroke="#1a1a1a" stroke-width="0.3" text-anchor="start" font-weight="normal">DDR Pathways associated with:</text>
<text x="420.3" y="277.6" font-size="10.5" fill="#d4141e" stroke="#d4141e" stroke-width="0.08" text-anchor="middle" font-weight="normal">Poor survival in</text>
<text x="421.2" y="290.4" font-size="10.6" fill="#d4141e" stroke="#d4141e" stroke-width="0.08" text-anchor="middle" font-weight="normal">METABRIC/TCGA/MSKCC</text>
<path d="M403.0,295.10 A88.2,76.4 0 1 0 403.0,446.70" fill="none" stroke="#3daa3a" stroke-width="1.4"/>
<path d="M405.4,296.20 A75.5,75.3 0 0 1 405.4,446.80" fill="none" stroke="#3daa3a" stroke-width="1.4"/>
<ellipse cx="435.1" cy="379.6" rx="74.4" ry="74.6" fill="none" stroke="#5f3f9e" stroke-width="1.5"/>
<ellipse cx="405.4" cy="371.5" rx="74.8" ry="75.1" fill="none" stroke="#d4141e" stroke-width="1.7"/>
<text x="270.4" y="352.5" font-size="10.4" fill="#3daa3a" stroke="#3daa3a" stroke-width="0.08" text-anchor="middle" font-weight="normal">Mutational</text>
<text x="268.6" y="365" font-size="10.4" fill="#3daa3a" stroke="#3daa3a" stroke-width="0.08" text-anchor="middle" font-weight="normal">enrichment</text>
<text x="268" y="377.5" font-size="10.4" fill="#3daa3a" stroke="#3daa3a" stroke-width="0.08" text-anchor="middle" font-weight="normal">in</text>
<text x="270.1" y="390" font-size="10.4" fill="#3daa3a" stroke="#3daa3a" stroke-width="0.08" text-anchor="middle" font-weight="normal">NeoAI/TCGA</text>
<text x="456.2" y="464" font-size="10.4" fill="#5f3f9e" stroke="#5f3f9e" stroke-width="0.08" text-anchor="middle" font-weight="normal">Inverse correlation</text>
<text x="455.8" y="476.5" font-size="10.4" fill="#5f3f9e" stroke="#5f3f9e" stroke-width="0.08" text-anchor="middle" font-weight="normal">of expression</text>
<text x="456.2" y="489" font-size="10.4" fill="#5f3f9e" stroke="#5f3f9e" stroke-width="0.08" text-anchor="middle" font-weight="normal">to Ki67</text>
<text x="456.5" y="501.5" font-size="10.4" fill="#5f3f9e" stroke="#5f3f9e" stroke-width="0.08" text-anchor="middle" font-weight="normal">in NeoAI</text>
<text x="319.4" y="373.5" font-size="10.3" fill="#e8832a" stroke="#e8832a" stroke-width="0.08" text-anchor="middle" font-weight="normal" transform="rotate(-90 319.4 373.5)">HR</text>
<text x="499.3" y="372" font-size="10.3" fill="#e8832a" stroke="#e8832a" stroke-width="0.08" text-anchor="middle" font-weight="normal" transform="rotate(-90 499.3 372)">FA</text>
<text x="355" y="409.2" font-size="14" fill="#e8832a" stroke="#e8832a" stroke-width="0.08" text-anchor="start" font-weight="normal" transform="rotate(-90 355 409.2)">NHEJ:</text>
<text x="354.8" y="363.4" font-size="8.3" fill="#e8832a" stroke="#e8832a" stroke-width="0.08" text-anchor="start" font-weight="normal" transform="rotate(-90 354.8 363.4)">PRKDC</text>
<text x="381.6" y="346.7" font-size="14" fill="#f0b323" stroke="#f0b323" stroke-width="0.08" text-anchor="start" font-weight="normal">MMR:</text>
<text x="423" y="346.7" font-size="8.6" fill="#f0b323" stroke="#f0b323" stroke-width="0.08" text-anchor="start" font-weight="normal">MutL</text>
<text x="365.8" y="383.4" font-size="14" fill="#f0b323" stroke="#f0b323" stroke-width="0.08" text-anchor="start" font-weight="normal">NER:</text>
<text x="403" y="383.4" font-size="8.8" fill="#f0b323" stroke="#f0b323" stroke-width="0.08" text-anchor="start" font-weight="normal">CETN2&amp;ERCC1</text>
<text x="379" y="415.4" font-size="14" fill="#f0b323" stroke="#f0b323" stroke-width="0.08" text-anchor="start" font-weight="normal">BER:</text>
<text x="416.2" y="415.4" font-size="8.5" fill="#f0b323" stroke="#f0b323" stroke-width="0.08" text-anchor="start" font-weight="normal">NEIL2</text>
</svg>
</body>
</html>
